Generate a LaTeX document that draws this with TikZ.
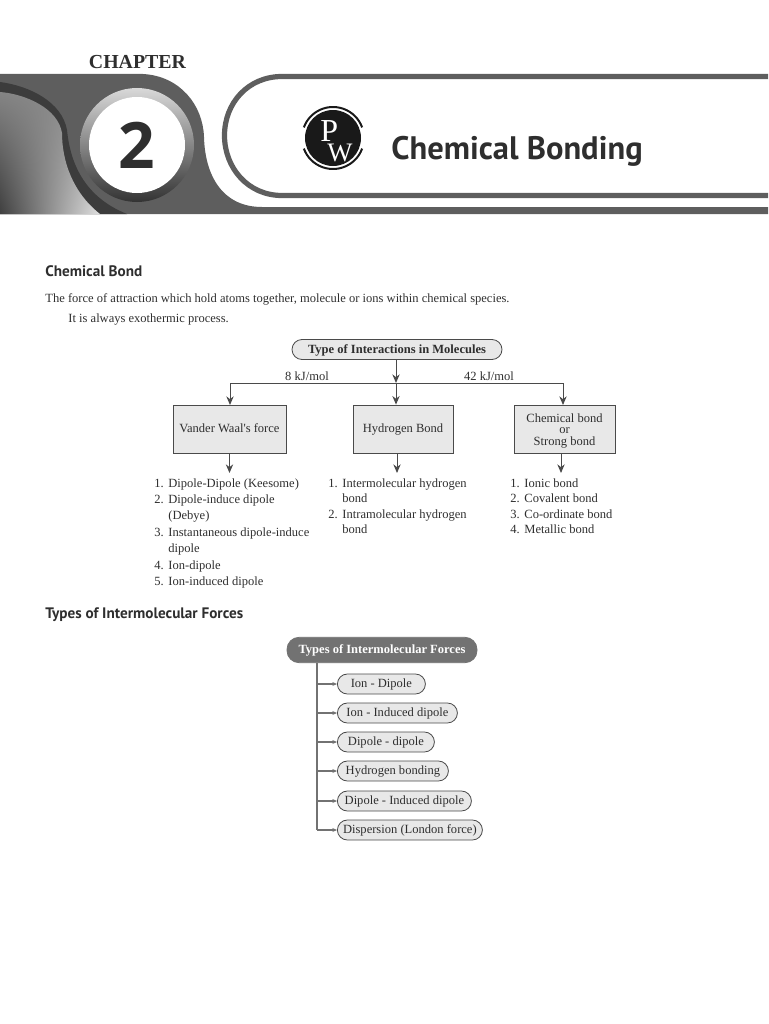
\documentclass[tikz,border=0pt]{standalone}
\usepackage{fontspec}
\setmainfont{Liberation Serif}
\newfontfamily\straightfont{Liberation Serif}
\newfontfamily\headfont{PT Sans}
\newfontfamily\numfont{Open Sans}
\usetikzlibrary{arrows.meta, positioning, calc, shadings}
\definecolor{cink}{HTML}{2E2E2E}
\definecolor{cband}{HTML}{5E5E5E}
\definecolor{cdeep}{HTML}{3C3C3C}
\definecolor{cline}{HTML}{4A4A4A}
\definecolor{cfill}{HTML}{E8E8E8}
\definecolor{chead}{HTML}{727272}
\tikzset{
  every picture/.style={line width=0.6pt},
  body/.style={font=\fontsize{9.4}{11}\selectfont, text=cink, inner sep=0pt},
  listline/.style={body, anchor=base west},
  heading/.style={font=\headfont\bfseries\fontsize{11.4}{13}\selectfont, text=cink, inner sep=0pt, anchor=base west},
  forcebox/.style={draw=cline, fill=cfill, align=center, body, minimum height=36pt},
  pill/.style={draw=cline, fill=cfill, body, rounded corners=7.5pt, minimum height=15pt, text height=7pt, text depth=1.5pt},
  arrow/.style={-{Stealth[length=6.5pt, width=5.5pt]}, draw=cline, line width=0.75pt},
  thinarrow/.style={-{Stealth[length=3.5pt, width=3pt]}, draw=chead, line width=0.8pt},
}
\begin{document}
\begin{tikzpicture}[x=0.75pt, y=-0.75pt]
  \useasboundingbox (0,0) rectangle (768,1024);
  \fill[cband] (0,74) -- (143,74) .. controls (180,76) and (203,105) .. (204,137)
    .. controls (205,175) and (222,207) .. (262,207) -- (768,207) -- (768,214) -- (0,214) -- cycle;
  \draw[cband, line width=3.9pt] (768,76.5) -- (282,76.5) .. controls (248,76.5) and (224.5,103) .. (224.5,135.5)
    .. controls (224.5,168) and (248,195.5) .. (282,195.5) -- (768,195.5);
  \fill[cdeep] (0,82) .. controls (30,86) and (62,102) .. (67,130)
    .. controls (70,160) and (82,196) .. (127,214) -- (0,214) -- cycle;
  \shade[lower left=black!75, upper left=black!48, upper right=black!45, lower right=black!12]
    (0,92) .. controls (25,94) and (58,108) .. (62,133)
    .. controls (62,160) and (72,192) .. (100,214) -- (0,214) -- cycle;
  \shade[top color=black!15, bottom color=black!80] (137,145) circle (57);
  \fill[white] (137,145) circle (48);

  \node[font=\bfseries\fontsize{14.9}{16}\selectfont, text=cink, inner sep=0pt] (chapter) at (137.5,62) {CHAPTER};
  \node[font=\numfont\bfseries\fontsize{48}{50}\selectfont, text=cink, inner sep=0pt] (number) at (137,145) {2};
  \fill[black!90] (333,138) circle (28);
  \draw[black!90, line width=1.5pt] (333,138) ++(200:31) arc (200:340:31);
  \draw[black!90, line width=1.5pt] (333,138) ++(20:31) arc (20:160:31);
  \node[font=\fontsize{20}{15.4}\selectfont, text=white, inner sep=0pt, align=left] (logo) at (336.5,141) {{\fontsize{24}{15.4}\selectfont P}\\\hspace*{5.25pt}W};
  \node[font=\headfont\bfseries\fontsize{24.4}{28}\selectfont, text=cink, inner sep=0pt, anchor=base west] (title) at (391,159) {Chemical Bonding};

  \node[heading] (bondhead) at (45,276) {Chemical Bond};
  \node[body, anchor=base west] (para) at (45,302) {The force of attraction which hold atoms together, molecule or ions within chemical species.};
  \node[body, anchor=base west] (parb) at (68,322) {It is always exothermic process.};

  \node[pill, minimum width=157.5pt, font=\bfseries\fontsize{9.4}{11}\selectfont] (inter) at (397,349.5) {Type of Interactions in Molecules};
  \coordinate (split) at (396,383);
  \node[forcebox, minimum width=84.75pt, text height=7pt, text depth=1.5pt] (vander) at (229.5,429) {Vander Waal{\straightfont'}s force};
  \node[forcebox, minimum width=75pt, text height=7pt, text depth=1.5pt] (hydrogen) at (403,429) {Hydrogen Bond};
  \node[forcebox, minimum width=75.75pt, text depth=0pt] (strong) at (564.5,429.5) {Chemical bond\\[-2.4pt]or\\[-2.4pt]Strong bond};
  \node[body] (weak) at (307,376) {8 kJ/mol};
  \node[body] (strength) at (489,376) {42 kJ/mol};
  \coordinate (vandertop) at (230,405);
  \coordinate (strongtop) at (563,405);
  \draw[arrow] (inter.south -| split) -- (split);
  \draw[arrow] (split) -| (vandertop);
  \draw[arrow] (split) -- (split |- hydrogen.north);
  \draw[arrow] (split) -| (strongtop);
  \coordinate (vanderend) at (229.5,473);
  \coordinate (hydrogenend) at (397,473);
  \coordinate (strongend) at (561,473);
  \draw[arrow] (vander.south -| vanderend) -- (vanderend);
  \draw[arrow] (hydrogen.south -| hydrogenend) -- (hydrogenend);
  \draw[arrow] (strong.south -| strongend) -- (strongend);

  \foreach \X/\Y/\n/\t [count=\k] in {
     154/487/1./{Dipole-Dipole (Keesome)},
     154/503/2./{Dipole-induce dipole},
     154/519//{(Debye)},
     154/536/3./{Instantaneous dipole-induce},
     154/552//{dipole},
     154/569/4./{Ion-dipole},
     154/585/5./{Ion-induced dipole},
     328/487/1./{Intermolecular hydrogen},
     328/502//{bond},
     328/518/2./{Intramolecular hydrogen},
     328/533//{bond},
     510/487/1./{Ionic bond},
     510/502/2./{Covalent bond},
     510/518/3./{Co-ordinate bond},
     510/533/4./{Metallic bond}} {
    \node[listline] (line\k) at (\X,\Y) {\makebox[10.5pt][l]{\n}\t};
  }

  \node[heading] (forcehead) at (45,618) {Types of Intermolecular Forces};
  \node[draw=chead, fill=chead, rounded corners=9pt, minimum width=142.5pt, minimum height=19pt, inner sep=0pt,
    text=white, font=\bfseries\fontsize{9.4}{11}\selectfont, text height=7pt, text depth=1.5pt] (forces) at (382,650) {Types of Intermolecular Forces};
  \coordinate (stem) at (317,830);
  \draw[line width=0.8pt, draw=chead] (forces.south -| stem) -- (stem);
  \foreach \Y/\w/\t [count=\k] in {
     684/66/{Ion - Dipole},
     713/90/{Ion - Induced dipole},
     742/72.75/{Dipole - dipole},
     771/83.25/{Hydrogen bonding},
     801/100.5/{Dipole - Induced dipole},
     830/108.75/{Dispersion (London force)}} {
    \node[pill, minimum width=\w pt, anchor=west] (kind\k) at (337,\Y) {\t};
    \coordinate (tap\k) at (317,\Y);
    \draw[thinarrow] (tap\k) -- (kind\k);
  }
\end{tikzpicture}
\end{document}
